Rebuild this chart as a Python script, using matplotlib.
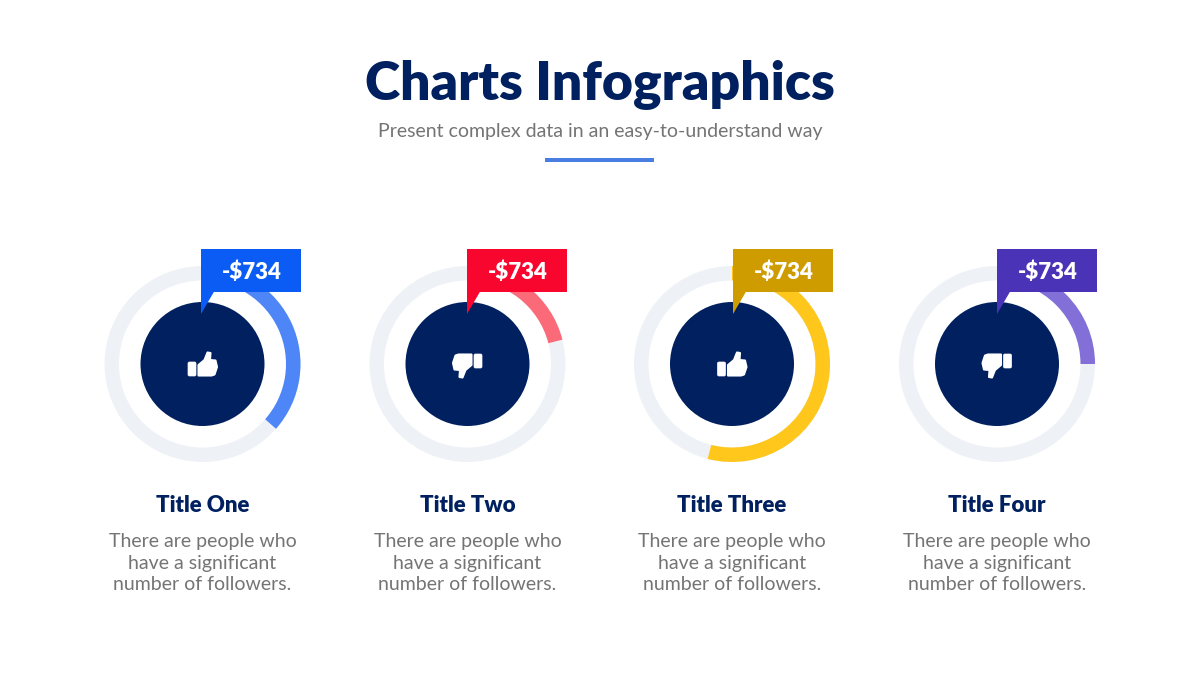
import matplotlib
matplotlib.use("Agg")
import matplotlib.pyplot as plt
from matplotlib.patches import Circle, Polygon, Rectangle, FancyBboxPatch

# data
titles = ["Title One", "Title Two", "Title Three", "Title Four"]
percents = [36.5, 21, 54, 25]
amounts = ["-$734", "-$734", "-$734", "-$734"]
thumbs_up = [True, False, True, False]
arc_colors = ["#4E86F8", "#FB6A78", "#FFC71C", "#8270D8"]
box_colors = ["#0A5CF5", "#F8062E", "#CF9C00", "#4B33B8"]
centers_x = [202.5, 467.5, 732, 997]
box_left = [201, 467, 733, 997]
body_text = "There are people who\nhave a significant\nnumber of followers."

NAVY = "#00205F"
RING = "#EEF2F7"
GRAY = "#747474"
H = 675
CY = H - 364

plt.rcParams["font.family"] = ["Lato", "DejaVu Sans"]

fig = plt.figure(figsize=(12, 6.75), dpi=100)
ax = fig.add_axes([0, 0, 1, 1])


def thumb(cx, cy, up):
    # small hand icon, the thumbs down is the same shape turned around
    sign = 1 if up else -1
    off = 0 if up else -2
    cuff_x = cx - 14.5 if up else cx + 6.5
    cuff_y = cy - 12 if up else cy - 4
    ax.add_patch(FancyBboxPatch((cuff_x, cuff_y), 8, 14, boxstyle="round,pad=0,rounding_size=1.5",
                                fc="white", ec="white", lw=0.5, zorder=5))
    pts = [(-4, -11.5), (-4, -1), (2, 4), (5, 11.5), (8, 11), (7.5, 4), (13, 3.5), (14.5, -3), (12, -10.5), (9, -11.5)]
    pts = [(cx + sign * px, cy + sign * py + off) for px, py in pts]
    ax.add_patch(Polygon(pts, closed=True, fc="white", ec="white", lw=1.5, joinstyle="round", zorder=5))


for i, title in enumerate(titles):
    cx = centers_x[i]
    # grey base ring, then the coloured share going clockwise from the top
    ax.pie([100], center=(cx, CY), radius=98, colors=[RING], wedgeprops=dict(width=14.5))
    ax.pie([percents[i], 100 - percents[i]], center=(cx, CY), radius=98, startangle=90, counterclock=False,
           colors=[arc_colors[i], "none"], wedgeprops=dict(width=14.5))
    ax.add_patch(Circle((cx, CY), 62, fc=NAVY, ec="none", zorder=3))
    thumb(cx, CY, thumbs_up[i])

    # callout box
    bx = box_left[i]
    ax.add_patch(Rectangle((bx, H - 292), 100, 43, fc=box_colors[i], ec="none", zorder=4))
    ax.add_patch(Polygon([(bx, H - 290), (bx + 14, H - 290), (bx, H - 314)], closed=True,
                         fc=box_colors[i], ec="none", zorder=4))
    ax.text(bx + 51, H - 272.5, amounts[i], color="white", fontsize=16, fontweight="heavy",
            ha="center", va="center", zorder=6)

    ax.text(cx, H - 506, title, color=NAVY, fontsize=16, fontweight="heavy", ha="center", va="center")
    ax.text(cx, H - 563, body_text, color=GRAY, fontsize=14, ha="center", va="center", linespacing=1.3)

ax.text(600, H - 85, "Charts Infographics", color=NAVY, fontsize=38.5, fontweight="heavy", ha="center", va="center")
ax.text(600, H - 132, "Present complex data in an easy-to-understand way", color=GRAY, fontsize=14,
        ha="center", va="center")
ax.add_patch(Rectangle((545, H - 162), 109, 4, fc="#4A7DE2", ec="none"))

ax.set_xlim(0, 1200)
ax.set_ylim(0, H)
ax.set_aspect("equal")
ax.axis("off")

fig.savefig("out.png", dpi=100)
